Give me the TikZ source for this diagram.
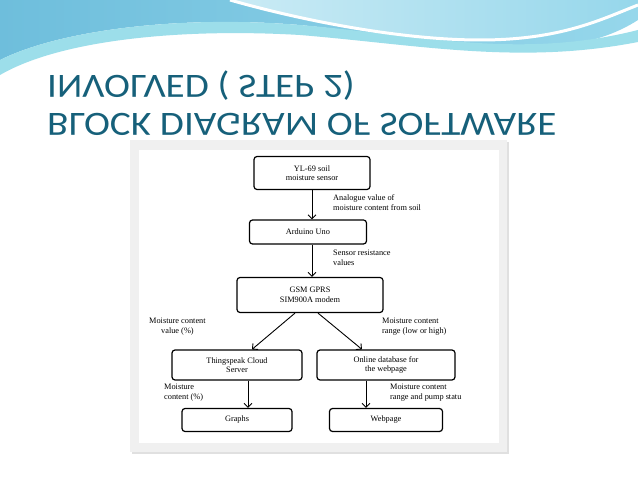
\documentclass[tikz,border=0pt]{standalone}
\usepackage{fontspec}
\setmainfont{Liberation Serif}
\newfontfamily\titlefont{Carlito}
\definecolor{ttl}{RGB}{22,96,122}
\definecolor{wv1}{RGB}{110,190,220}
\definecolor{wv2}{RGB}{150,215,235}
\definecolor{wv3}{RGB}{90,200,220}
\begin{document}
\begin{tikzpicture}[x=1pt,y=-1pt,
 box/.style={draw=black,line width=1.2pt,rounded corners=3pt,align=center,font=\fontsize{8.3}{9.5}\selectfont,inner sep=0pt},
 lbl/.style={align=left,anchor=north west,font=\fontsize{8.3}{10}\selectfont,inner sep=0pt},
 arr/.style={->,line width=0.9pt,>={Straight Barb[length=4pt,width=8pt]}}]
\usetikzlibrary{arrows.meta}
\useasboundingbox (0,0) rectangle (638,478);
\fill[white] (0,0) rectangle (638,478);
% header waves
\shade[left color=wv1,right color=wv2] (0,0) -- (638,0) -- (638,20) .. controls (560,70) and (450,40) .. (300,25) .. controls (180,15) and (60,30) .. (0,60) -- cycle;
\fill[wv3!60!white] (0,60) .. controls (60,30) and (180,15) .. (300,25) .. controls (420,35) and (520,60) .. (638,30) -- (638,42) .. controls (520,65) and (420,45) .. (300,35) .. controls (180,28) and (60,40) .. (0,75) -- cycle;
\shade[left color=wv2!50!white,right color=wv2] (230,0) .. controls (300,20) and (400,40) .. (480,40) .. controls (560,40) and (600,20) .. (638,5) -- (638,0) -- cycle;
\draw[white,line width=3pt] (230,0) .. controls (300,20) and (400,40) .. (480,40) .. controls (560,40) and (600,20) .. (638,5);
% title
\node[anchor=west,inner sep=0pt,text=ttl,font=\titlefont\fontsize{34}{38}\selectfont,align=left,xscale=1.15,yscale=-1,transform shape] (title) at (47,103) {BLOCK DIAGRAM OF SOFTWARE\\INVOLVED ( STEP 2)};
% frame
\fill[black!12] (132,142) rectangle (509,454);
\fill[black!6] (130,140) rectangle (507,452);
\fill[white] (139,150) rectangle (499,443);
% nodes
\node[box,minimum width=116pt,minimum height=33pt] (s) at (312,173) {YL-69 soil\\moisture sensor};
\node[box,minimum width=117pt,minimum height=24pt] (a) at (308,232) {Arduino Uno};
\node[box,minimum width=146pt,minimum height=35pt] (g) at (310,295) {GSM GPRS\\SIM900A modem};
\node[box,minimum width=130pt,minimum height=30pt] (t) at (237,365) {Thingspeak Cloud\\Server};
\node[box,minimum width=138pt,minimum height=30pt] (o) at (386,365) {Online database for\\the webpage};
\node[box,minimum width=110pt,minimum height=23pt] (gr) at (237,420) {Graphs};
\node[box,minimum width=113pt,minimum height=23pt] (w) at (386,420) {Webpage};
% arrows
\draw[arr] (s.south) -- (s.south|-a.north);
\draw[arr] (s.south|-a.south) -- (s.south|-g.north);
\draw[arr] ([xshift=-15pt]g.south) -- ([xshift=15pt]t.north);
\draw[arr] ([xshift=8pt]g.south) -- ([xshift=-24pt]o.north);
\draw[arr] ([xshift=11pt]t.south) -- ([xshift=11pt]gr.north);
\draw[arr] ([xshift=-20pt]o.south) -- ([xshift=-20pt]o.south|-w.north);
% labels
\node[lbl] (l1) at (333,194) {Analogue value of\\moisture content from soil};
\node[lbl] (l2) at (333,250) {Sensor resistance\\values};
\node[lbl,align=center] (l3) at (149,318) {Moisture content\\value (\%)};
\node[lbl] (l4) at (382,318) {Moisture content\\range (low or high)};
\node[lbl] (l5) at (164,384) {Moisture\\content (\%)};
\node[lbl] (l6) at (390,384) {Moisture content\\range and pump statu};
\end{tikzpicture}
\end{document}
